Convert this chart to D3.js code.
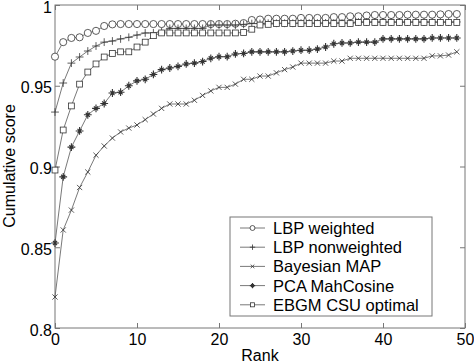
<!DOCTYPE html>
<html><head><meta charset="utf-8">
<script src="https://cdn.jsdelivr.net/npm/d3@7"></script>
<style>body{margin:0;background:#fff}svg{display:block}text{font-family:"Liberation Sans",Arial,sans-serif}</style>
</head><body><svg id="c" width="474" height="363"></svg>
<script>
const ranks = d3.range(0, 50);
const lbpWeighted = [0.968,0.977,0.9796,0.980,0.9827,0.984,0.987,0.988,0.9882,0.9882,
 0.9882,0.9882,0.9882,0.9882,0.9882,0.9882,0.9882,0.9882,0.9882,0.9882,
 0.9882,0.9882,0.9884,0.9888,0.9907,0.991,0.9915,0.9915,0.9915,0.9915,
 0.992,0.992,0.992,0.992,0.9925,0.9925,0.993,0.993,0.9935,0.9938,
 0.9938,0.9938,0.9938,0.994,0.994,0.994,0.994,0.9942,0.9944,0.9944];
const lbpNonweighted = [0.9337,0.9517,0.964,0.9678,0.9715,0.9746,0.977,0.9777,0.979,0.980,
 0.9814,0.9827,0.9827,0.9835,0.9855,0.9855,0.9855,0.9855,0.9855,0.9876,
 0.9876,0.9876,0.9876,0.988,0.9885,0.9885,0.9887,0.9887,0.9887,0.9887,
 0.9888,0.9888,0.9888,0.9889,0.9889,0.9889,0.9889,0.9895,0.9895,0.9895,
 0.9895,0.9895,0.9895,0.9895,0.9895,0.9895,0.9895,0.9895,0.9895,0.9895];
const bayesianMAP = [0.8192,0.8607,0.873,0.887,0.8966,0.907,0.9127,0.9176,0.9214,0.9238,
 0.9257,0.929,0.9325,0.936,0.9387,0.9387,0.9387,0.941,0.944,0.9468,
 0.949,0.949,0.951,0.954,0.954,0.956,0.956,0.958,0.960,0.9616,
 0.964,0.964,0.964,0.964,0.9653,0.9653,0.967,0.967,0.967,0.967,
 0.967,0.967,0.967,0.967,0.967,0.967,0.9685,0.9685,0.969,0.971];
const pcaMahCosine = [0.8526,0.8936,0.912,0.922,0.932,0.936,0.939,0.9455,0.946,0.950,
 0.953,0.954,0.957,0.960,0.961,0.962,0.9635,0.964,0.965,0.967,
 0.968,0.968,0.9697,0.970,0.971,0.971,0.971,0.971,0.971,0.9715,
 0.972,0.972,0.9727,0.974,0.976,0.9765,0.9765,0.977,0.977,0.977,
 0.979,0.979,0.979,0.979,0.979,0.979,0.9796,0.9796,0.9796,0.9796];
const ebgmCSU = [0.8978,0.9226,0.9375,0.951,0.9585,0.9635,0.9678,0.970,0.971,0.971,
 0.974,0.977,0.981,0.9827,0.9827,0.9827,0.9827,0.9827,0.9827,0.9827,
 0.9827,0.9827,0.9827,0.983,0.985,0.9876,0.988,0.9885,0.9885,0.9885,
 0.9885,0.9885,0.9885,0.9885,0.9885,0.9885,0.9885,0.9892,0.9892,0.9892,
 0.9892,0.9892,0.9892,0.9892,0.9892,0.9892,0.9892,0.9892,0.9892,0.9892];
const seriesNames = ["LBP weighted","LBP nonweighted","Bayesian MAP","PCA MahCosine","EBGM CSU optimal"];
const seriesMarkers = ["circle","plus","cross","star","square"];
const xTicks = [0,10,20,30,40,50];
const yTicks = [0.8,0.85,0.9,0.95,1];
const yTickLabels = ["0.8","0.85","0.9","0.95","1"];

const series = [lbpWeighted,lbpNonweighted,bayesianMAP,pcaMahCosine,ebgmCSU].map((v,i)=>({name:seriesNames[i],marker:seriesMarkers[i],values:v}));

const svg = d3.select("#c");
const L=55,R=465,T=5,B=328;
const x = d3.scaleLinear().domain([0,50]).range([L,R]);
const y = d3.scaleLinear().domain([0.8,1]).range([B,T]);
const axisCol="#777", lineCol="#6a6a6a", markCol="#333";

function drawMarker(g,type,cx,cy,s){
  const p=d3.path();
  if(type==="circle"){g.append("circle").attr("cx",cx).attr("cy",cy).attr("r",s*0.55).attr("fill","#fff").attr("stroke",markCol).attr("stroke-width",0.8);return;}
  if(type==="square"){g.append("rect").attr("x",cx-s*0.45).attr("y",cy-s*0.45).attr("width",s*0.9).attr("height",s*0.9).attr("fill","#fff").attr("stroke",markCol).attr("stroke-width",0.8);return;}
  const h=s*0.6, d=s*0.4;
  if(type==="plus"||type==="star"){p.moveTo(cx-h,cy);p.lineTo(cx+h,cy);p.moveTo(cx,cy-h);p.lineTo(cx,cy+h);}
  if(type==="cross"||type==="star"){const k=type==="star"?d*0.8:d;p.moveTo(cx-k,cy-k);p.lineTo(cx+k,cy+k);p.moveTo(cx-k,cy+k);p.lineTo(cx+k,cy-k);}
  g.append("path").attr("d",p.toString()).attr("fill","none").attr("stroke",markCol).attr("stroke-width",type==="star"?1.1:0.8);
}

// box
svg.append("rect").attr("x",L).attr("y",T).attr("width",R-L).attr("height",B-T).attr("fill","none").attr("stroke",axisCol).attr("stroke-width",1);

// axes (inward ticks)
const xb = svg.append("g").attr("transform",`translate(0,${B})`).call(d3.axisBottom(x).tickValues(xTicks).tickSizeInner(-5).tickSizeOuter(0).tickPadding(10));
const xt = svg.append("g").attr("transform",`translate(0,${T})`).call(d3.axisTop(x).tickValues(xTicks).tickSizeInner(-5).tickSizeOuter(0).tickFormat(""));
const yl = svg.append("g").attr("transform",`translate(${L},0)`).call(d3.axisLeft(y).tickValues(yTicks).tickSizeInner(-5).tickSizeOuter(0).tickPadding(3).tickFormat((d,i)=>yTickLabels[i]));
const yr = svg.append("g").attr("transform",`translate(${R},0)`).call(d3.axisRight(y).tickValues(yTicks).tickSizeInner(-5).tickSizeOuter(0).tickFormat(""));
[xb,xt,yl,yr].forEach(a=>{a.select(".domain").remove();a.selectAll("line").attr("stroke",axisCol);a.selectAll("text").attr("fill","#000").attr("font-size",16).attr("font-family",'"Liberation Sans",Arial,sans-serif');});
xb.selectAll("text").attr("dy","0.71em").attr("y",6);
yl.selectAll("text").attr("dy","0.45em");

// series
const line = d3.line().x((d,i)=>x(ranks[i])).y(d=>y(d));
series.forEach(s=>{
  svg.append("path").datum(s.values).attr("d",line).attr("fill","none").attr("stroke",lineCol).attr("stroke-width",0.9);
  const g=svg.append("g");
  s.values.forEach((v,i)=>drawMarker(g,s.marker,x(ranks[i]),y(v),6.5));
});

// legend
const lg = svg.append("g");
lg.append("rect").attr("x",230).attr("y",217).attr("width",202).attr("height",99).attr("fill","#fff").attr("stroke",axisCol).attr("stroke-width",1);
series.forEach((s,i)=>{
  const yy=228+i*19.2;
  lg.append("line").attr("x1",240).attr("x2",265).attr("y1",yy).attr("y2",yy).attr("stroke",lineCol).attr("stroke-width",0.9);
  drawMarker(lg,s.marker,252.5,yy,4.5);
  lg.append("text").attr("x",273).attr("y",yy).attr("dy","0.36em").attr("font-size",16.5).text(s.name);
});

svg.append("text").attr("x",260).attr("y",361).attr("text-anchor","middle").attr("font-size",16).text("Rank");
svg.append("text").attr("transform","translate(15,166) rotate(-90)").attr("text-anchor","middle").attr("font-size",16).text("Cumulative score");
</script></body></html>
